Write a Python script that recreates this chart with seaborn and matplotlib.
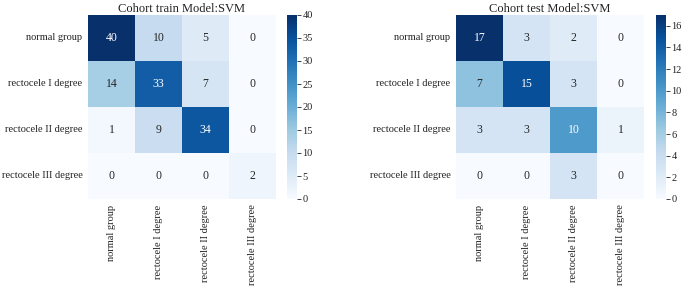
import numpy as np
import matplotlib
matplotlib.use("Agg")
import matplotlib.pyplot as plt
import seaborn as sns

class_labels = ["normal group", "rectocele I degree", "rectocele II degree", "rectocele III degree"]

train_cm = np.array([
    [40, 10, 5, 0],
    [14, 33, 7, 0],
    [1, 9, 34, 0],
    [0, 0, 0, 2],
])
test_cm = np.array([
    [17, 3, 2, 0],
    [7, 15, 3, 0],
    [3, 3, 10, 1],
    [0, 0, 3, 0],
])

sns.set_style("white")
plt.rcParams['font.family'] = ['Liberation Serif', 'DejaVu Serif']

fig = plt.figure(figsize=(6.85, 2.88), dpi=100)

panels = [
    (train_cm, "Cohort train Model:SVM", 88, 287, np.arange(0, 41, 5)),
    (test_cm, "Cohort test Model:SVM", 456, 656, np.arange(0, 17, 2)),
]

for cm, title, x0, cx0, cticks in panels:
    ax = fig.add_axes([x0 / 685, 1 - 199 / 288, 188 / 685, 184 / 288])
    cax = fig.add_axes([cx0 / 685, 1 - 199 / 288, 10 / 685, 184 / 288])
    sns.heatmap(cm, annot=True, fmt='d', cmap='Blues', ax=ax, cbar_ax=cax,
                xticklabels=class_labels, yticklabels=class_labels,
                annot_kws={'fontsize': 8.5})
    ax.set_title(title, fontsize=9, pad=2, color='#222222')
    ax.tick_params(axis='both', labelsize=7.5, length=3, width=0.6, pad=1, colors='#222222')
    ax.set_xticklabels(class_labels, rotation=90)
    ax.set_yticklabels(class_labels, rotation=0)
    cax.set_yticks(cticks)
    cax.tick_params(labelsize=7.5, length=3, width=0.6, pad=1, colors='#222222')

fig.savefig("out.png", dpi=100)
